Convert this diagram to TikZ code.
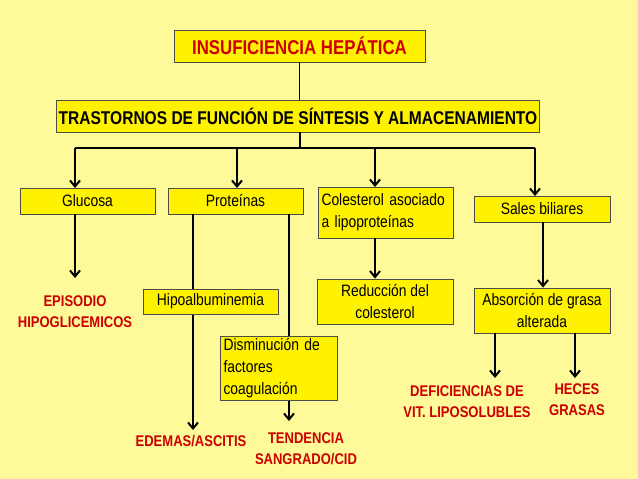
\documentclass[tikz,border=0pt]{standalone}
\usepackage{fontspec}
\setmainfont{Liberation Sans}
\newfontfamily\nar[FakeStretch=0.84]{Liberation Sans}
\usetikzlibrary{arrows.meta}
\begin{document}
\begin{tikzpicture}[x=1pt,y=-1pt,
  box/.style={draw=black!70,fill=yellow,line width=0.8pt,inner sep=2pt,font=\nar\fontsize{16.5}{22}\selectfont},
  res/.style={text=red!80!black,font=\nar\bfseries\fontsize{15.5}{21}\selectfont,align=center},
  ln/.style={line width=2.2pt},
  ar/.style={line width=2.2pt,-{Straight Barb[length=6pt,width=10pt,line width=2pt]}}]
\fill[yellow!40] (0,0) rectangle (638,479);
\useasboundingbox (0,0) rectangle (638,479);
\node[box,minimum width=251pt,minimum height=32pt,text=red!80!black,font=\nar\bfseries\fontsize{20}{22}\selectfont] (ins) at (299.5,46) {INSUFICIENCIA HEPÁTICA};
\node[box,minimum width=470pt,minimum height=32pt,font=\nar\bfseries\fontsize{18.5}{20}\selectfont] (tr) at (298,116) {TRASTORNOS DE FUNCIÓN DE SÍNTESIS Y ALMACENAMIENTO};
\draw[line width=1.5pt] (ins.south) -- (ins.south |- tr.north);
\coordinate (bar) at (300,148);
\draw[ln] (tr.south -| bar) -- (bar);
\coordinate (b1) at (75,148); \coordinate (b4) at (535,148);
\coordinate (b2) at (237,148); \coordinate (b3) at (375,148);
\draw[ln] (b1) -- (b4);
\node[box,minimum width=135pt,minimum height=26pt] (glu) at (87.5,201) {Glucosa};
\node[box,minimum width=135pt,minimum height=51pt,align=left,text width=128pt] (col) at (385.5,212.5) {Colesterol asociado\\a lipoproteínas};
\node[box,minimum width=135pt,minimum height=26pt] (pro) at (235.5,201) {Proteínas};
\node[box,minimum width=136pt,minimum height=26pt] (sal) at (542,209) {Sales biliares};
\draw[ar] (b1) -- (75,188);
\draw[ar] (b2) -- (237,188);
\draw[ar] (b3) -- (375,187);
\draw[ar] (b4) -- (535,196);
\coordinate (g1) at (75,214); \coordinate (g2) at (75,278);
\draw[ar] (g1) -- (g2);
\node[res] (epi) at (75,312) {EPISODIO\\HIPOGLICEMICOS};
\coordinate (p1) at (193,214); \coordinate (p2) at (193,430);
\coordinate (q1) at (289,214); \coordinate (q2) at (289,421);
\draw[ar] (p1) -- (p2);
\draw[ar] (q1) -- (q2);
\node[box,minimum width=135pt,minimum height=25pt] (hip) at (210.5,301.5) {Hipoalbuminemia};
\node[box,minimum width=117pt,minimum height=64pt,align=left,text width=110pt] (dis) at (278.5,368) {Disminución de\\factores\\coagulación};
\node[res] (ede) at (191,441) {EDEMAS/ASCITIS};
\node[res] (ten) at (306,449) {TENDENCIA\\SANGRADO/CID};
\node[box,minimum width=136pt,minimum height=45pt,align=center] (red) at (385,301.5) {Reducción del\\colesterol};
\draw[ar] (col.south -| 375,0) -- (red.north -| 375,0);
\node[box,minimum width=136pt,minimum height=45pt,align=center] (abs) at (542,310.5) {Absorción de grasa\\alterada};
\draw[ar] (sal.south -| 543,0) -- (abs.north -| 543,0);
\coordinate (d2) at (495,378); \coordinate (h2) at (575,378);
\draw[ar] (abs.south -| d2) -- (d2);
\draw[ar] (abs.south -| h2) -- (h2);
\node[res] (def) at (467,402) {DEFICIENCIAS DE\\VIT. LIPOSOLUBLES};
\node[res] (hec) at (577,400) {HECES\\GRASAS};
\end{tikzpicture}
\end{document}
